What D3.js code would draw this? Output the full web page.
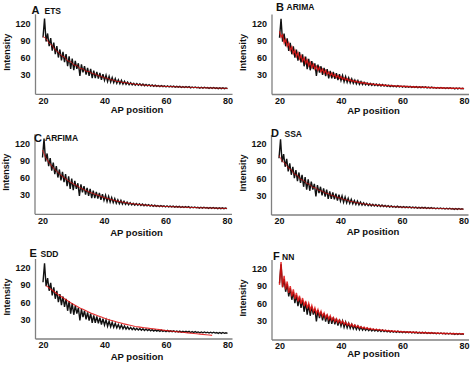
<!DOCTYPE html>
<html>
<head>
<meta charset="utf-8">
<title>Intensity by AP position</title>
<script src="https://d3js.org/d3.v7.min.js"></script>
<style>
body { margin: 0; background: #fff; }
text { font-family: "Liberation Sans", Arial, sans-serif; }
</style>
</head>
<body>
<script>

// observed intensity, AP position 20 to 80 every 0.5
var obsStart = 20, obsStep = 0.5;
var observed = [
  95, 128, 88, 102, 80, 94, 72, 86, 66, 80,
  60, 74, 55, 70, 52, 66, 45, 62, 40, 58,
  38, 54, 40, 50, 28, 48, 34, 45, 30, 42,
  28, 40, 24, 37, 24, 35, 23, 33, 21, 31,
  20, 29, 18, 27, 17, 25, 16, 23, 15, 21,
  14, 20, 13.5, 18.5, 13, 17, 12.5, 16, 12, 15,
  11.5, 14.5, 11.5, 14, 11, 13.5, 10.5, 13, 10.5, 12.5,
  10, 12, 9.5, 11.5, 9.5, 11, 9, 11, 9, 10.5,
  8.5, 10.5, 8.5, 10, 8.5, 10, 8, 9.5, 8, 9.5,
  7.5, 9, 7.5, 9, 7.5, 9, 7, 8.5, 7, 8.5,
  7, 8, 6.5, 8, 6.5, 8, 6.5, 7.5, 6, 7.5,
  6, 7.5, 6, 7, 5.5, 7, 5.5, 7, 5.5, 6.5,
  5.5
];

// model fits (red)
var etsFit = [ // AP 20..80 step 1
  97, 93, 85, 81, 73, 69, 63, 61, 54, 53,
  47, 46, 41, 40, 36, 35.5, 32, 31, 28, 27,
  24.5, 23.5, 21, 20.5, 18, 18, 16, 16, 14.5, 14.3,
  13, 12.8, 12, 11.8, 11, 11, 10.5, 10.3, 9.9, 9.7,
  9.4, 9.2, 9, 8.8, 8.6, 8.4, 8.2, 8, 7.8, 7.6,
  7.4, 7.2, 7, 6.9, 6.8, 6.6, 6.5, 6.4, 6.2, 6.1,
  6
];
var arimaFit = [ // AP 20..80 step 0.5
  106, 96, 100, 86, 92, 80, 86, 73, 79, 67,
  73, 62, 69, 58, 64, 54, 60, 50, 56, 46,
  52, 43, 49, 40, 45, 38, 43, 35, 40, 33,
  38, 31, 35, 29, 33, 27.5, 31, 25.5, 29, 24,
  27, 22.5, 25, 21, 23.5, 19.5, 22, 18.5, 20.5, 17.5,
  19, 16.5, 18, 15.5, 17, 15, 16, 14, 15, 13.5,
  14.5, 13, 13.8, 12.5, 13.2, 12, 12.6, 11.6, 12.2, 11.2,
  11.8, 10.9, 11.4, 10.6, 11, 10.3, 10.8, 10, 10.5, 9.8,
  10.2, 9.5, 10, 9.3, 9.7, 9, 9.5, 8.8, 9.2, 8.6,
  9, 8.4, 8.8, 8.2, 8.6, 8, 8.4, 7.8, 8.2, 7.6,
  8, 7.4, 7.8, 7.2, 7.6, 7, 7.4, 6.9, 7.2, 6.8,
  7, 6.6, 6.9, 6.5, 6.8, 6.4, 6.6, 6.2, 6.5, 6.1,
  6.3
];
var arfimaFit = [ // AP 20..80 step 1
  108, 95, 87, 80, 74, 69, 64, 60, 56, 52,
  49, 46, 43, 40, 37.5, 35, 33, 31, 29, 27,
  25, 23.5, 22, 20.5, 19, 18, 17, 16, 15, 14.3,
  13.6, 13, 12.4, 11.9, 11.4, 11, 10.6, 10.2, 9.9, 9.6,
  9.3, 9.1, 8.9, 8.7, 8.5, 8.3, 8.1, 7.9, 7.7, 7.5,
  7.3, 7.1, 7, 6.8, 6.7, 6.5, 6.4, 6.3, 6.1, 6,
  5.9
];
var ssaFit = [ // AP 20..80 step 1
  100, 90, 86, 78, 75, 67, 65, 58, 56, 51,
  49, 44, 43, 38.5, 37.5, 34, 33, 30, 29, 26,
  25.5, 22.5, 22, 19.5, 19, 17, 16.8, 15.2, 15, 13.8,
  13.5, 12.6, 12.4, 11.6, 11.4, 10.8, 10.7, 10.1, 10, 9.5,
  9.4, 9, 8.9, 8.6, 8.5, 8.2, 8.1, 7.8, 7.7, 7.5,
  7.4, 7.1, 7, 6.8, 6.7, 6.5, 6.4, 6.2, 6.1, 6,
  5.9
];
var sddFit = [ // AP 21..75 step 1
  89, 85, 81, 77, 73, 69.5, 66, 62.5, 59, 56,
  53, 50, 47.5, 45, 42.5, 40, 38, 36, 34, 32,
  30, 28.5, 27, 25.5, 24, 22.5, 21.2, 20, 18.8, 17.6,
  16.8, 16, 15.3, 14.6, 14, 13.3, 12.7, 12, 11.2, 10.5,
  9.9, 9.3, 8.7, 8.1, 7.5, 7, 6.4, 5.9, 5.3, 4.8,
  4.2, 3.7, 3.1, 2.6, 2
];
var nnFit = [ // AP 20..80 step 0.5
  92, 132, 88, 108, 84, 98, 78, 90, 72, 84,
  67, 78, 63, 73, 59, 69, 55, 64, 51, 60,
  48, 56, 45, 52, 42, 49, 39, 46, 37, 43,
  34, 40, 32, 38, 30, 35, 28, 33, 26, 31,
  24.5, 29, 23, 27, 21.5, 25, 20, 23.5, 19, 22,
  18, 20.5, 17, 19, 16, 18, 15, 17, 14.5, 16,
  14, 15, 13.5, 14.5, 13, 14, 12.5, 13.3, 12, 12.8,
  11.5, 12.2, 11, 11.7, 10.6, 11.3, 10.3, 11, 10, 10.6,
  9.7, 10.3, 9.4, 10, 9.2, 9.7, 9, 9.5, 8.8, 9.2,
  8.6, 9, 8.4, 8.8, 8.2, 8.6, 8, 8.4, 7.8, 8.2,
  7.6, 8, 7.4, 7.8, 7.2, 7.6, 7, 7.4, 6.9, 7.2,
  6.8, 7, 6.6, 6.9, 6.5, 6.8, 6.4, 6.6, 6.3, 6.5,
  6.2
];

var panelLetters = ["A", "B", "C", "D", "E", "F"];
var panelNames = ["ETS", "ARIMA", "ARFIMA", "SSA", "SDD", "NN"];
var fits = [etsFit, arimaFit, arfimaFit, ssaFit, sddFit, nnFit];
var fitStart = [20, 20, 20, 20, 21, 20];
var fitStep = [1, 0.5, 1, 1, 1, 0.5];
var xTicks = [20, 40, 60, 80];
var yTicks = [30, 60, 90, 120];

// layout (axis corner of each panel, label nudges)
var axisX = [35.5, 272, 35, 271.5, 35.5, 272];
var axisY = [94.3, 94.5, 214.3, 215, 339, 340];
var letterDx = [-4, 4, -1, -0.5, -6, 1];
var letterDy = [-80, -84, -72.6, -77.7, -82, -80];
var nameDx = [9, 14.5, 10, 13, 5, 10];
var xlabDy = [18.5, 19, 22, 20, 21, 17];
var fitWidth = [0.9, 1.3, 0.9, 0.8, 1.1, 1.4];

var svg = d3.select("body").append("svg")
    .attr("width", 474)
    .attr("height", 377);

function toPoints(vals, start, step) {
  return vals.map(function(v, i) { return {x: start + i * step, y: v}; });
}

panelLetters.forEach(function(letter, p) {
  var ax = axisX[p], ay = axisY[p];
  var g = svg.append("g");

  var x = d3.scaleLinear().domain([20, 80]).range([ax + 7.5, ax + 192]);
  var y = d3.scaleLinear().domain([0, 120]).range([ay - 2.5, ay - 71.1]);

  var line = d3.line()
      .x(function(d) { return x(d.x); })
      .y(function(d) { return y(d.y); });

  // observed (black) then model fit (red) on top
  g.append("path")
      .datum(toPoints(observed, obsStart, obsStep))
      .attr("d", line)
      .attr("fill", "none")
      .attr("stroke", "#111")
      .attr("stroke-width", 1.4);

  g.append("path")
      .datum(toPoints(fits[p], fitStart[p], fitStep[p]))
      .attr("d", line)
      .attr("fill", "none")
      .attr("stroke", "#e01010")
      .attr("stroke-opacity", 0.85)
      .attr("stroke-width", fitWidth[p]);

  // axis lines
  g.append("line")
      .attr("x1", ax).attr("x2", ax)
      .attr("y1", ay).attr("y2", ay - 80)
      .attr("stroke", "#808080").attr("stroke-width", 1.3);
  g.append("line")
      .attr("x1", ax).attr("x2", ax + 197)
      .attr("y1", ay).attr("y2", ay)
      .attr("stroke", "#808080").attr("stroke-width", 1.3);

  var yAxis = g.append("g")
      .attr("transform", "translate(" + (ax - 1) + ",0)")
      .call(d3.axisLeft(y).tickValues(yTicks).tickSize(0).tickPadding(4));
  yAxis.select(".domain").remove();

  var xAxis = g.append("g")
      .attr("transform", "translate(0," + ay + ")")
      .call(d3.axisBottom(x).tickValues(xTicks).tickSize(0).tickPadding(3));
  xAxis.select(".domain").remove();

  g.selectAll(".tick text")
      .attr("fill", "#111")
      .style("font-size", "9px")
      .style("font-weight", "bold")
      .style("font-family", "'Liberation Sans', Arial, sans-serif");

  // axis titles
  g.append("text")
      .attr("x", ax + 101.5)
      .attr("y", ay + xlabDy[p])
      .attr("text-anchor", "middle")
      .style("font-size", "9.5px")
      .style("font-weight", "bold")
      .attr("fill", "#111")
      .text("AP position");

  g.append("text")
      .attr("transform", "translate(" + (ax - 26) + "," + (ay - 42) + ") rotate(-90)")
      .attr("text-anchor", "middle")
      .style("font-size", "9px")
      .style("font-weight", "bold")
      .attr("fill", "#111")
      .text("Intensity");

  // panel letter and model name
  g.append("text")
      .attr("x", ax + letterDx[p])
      .attr("y", ay + letterDy[p])
      .style("font-size", "11px")
      .style("font-weight", "bold")
      .attr("fill", "#111")
      .text(letter);

  g.append("text")
      .attr("x", ax + nameDx[p])
      .attr("y", ay + letterDy[p] - 0.5)
      .style("font-size", "8.5px")
      .style("font-weight", "bold")
      .attr("fill", "#111")
      .text(panelNames[p]);
});

</script>
</body>
</html>
